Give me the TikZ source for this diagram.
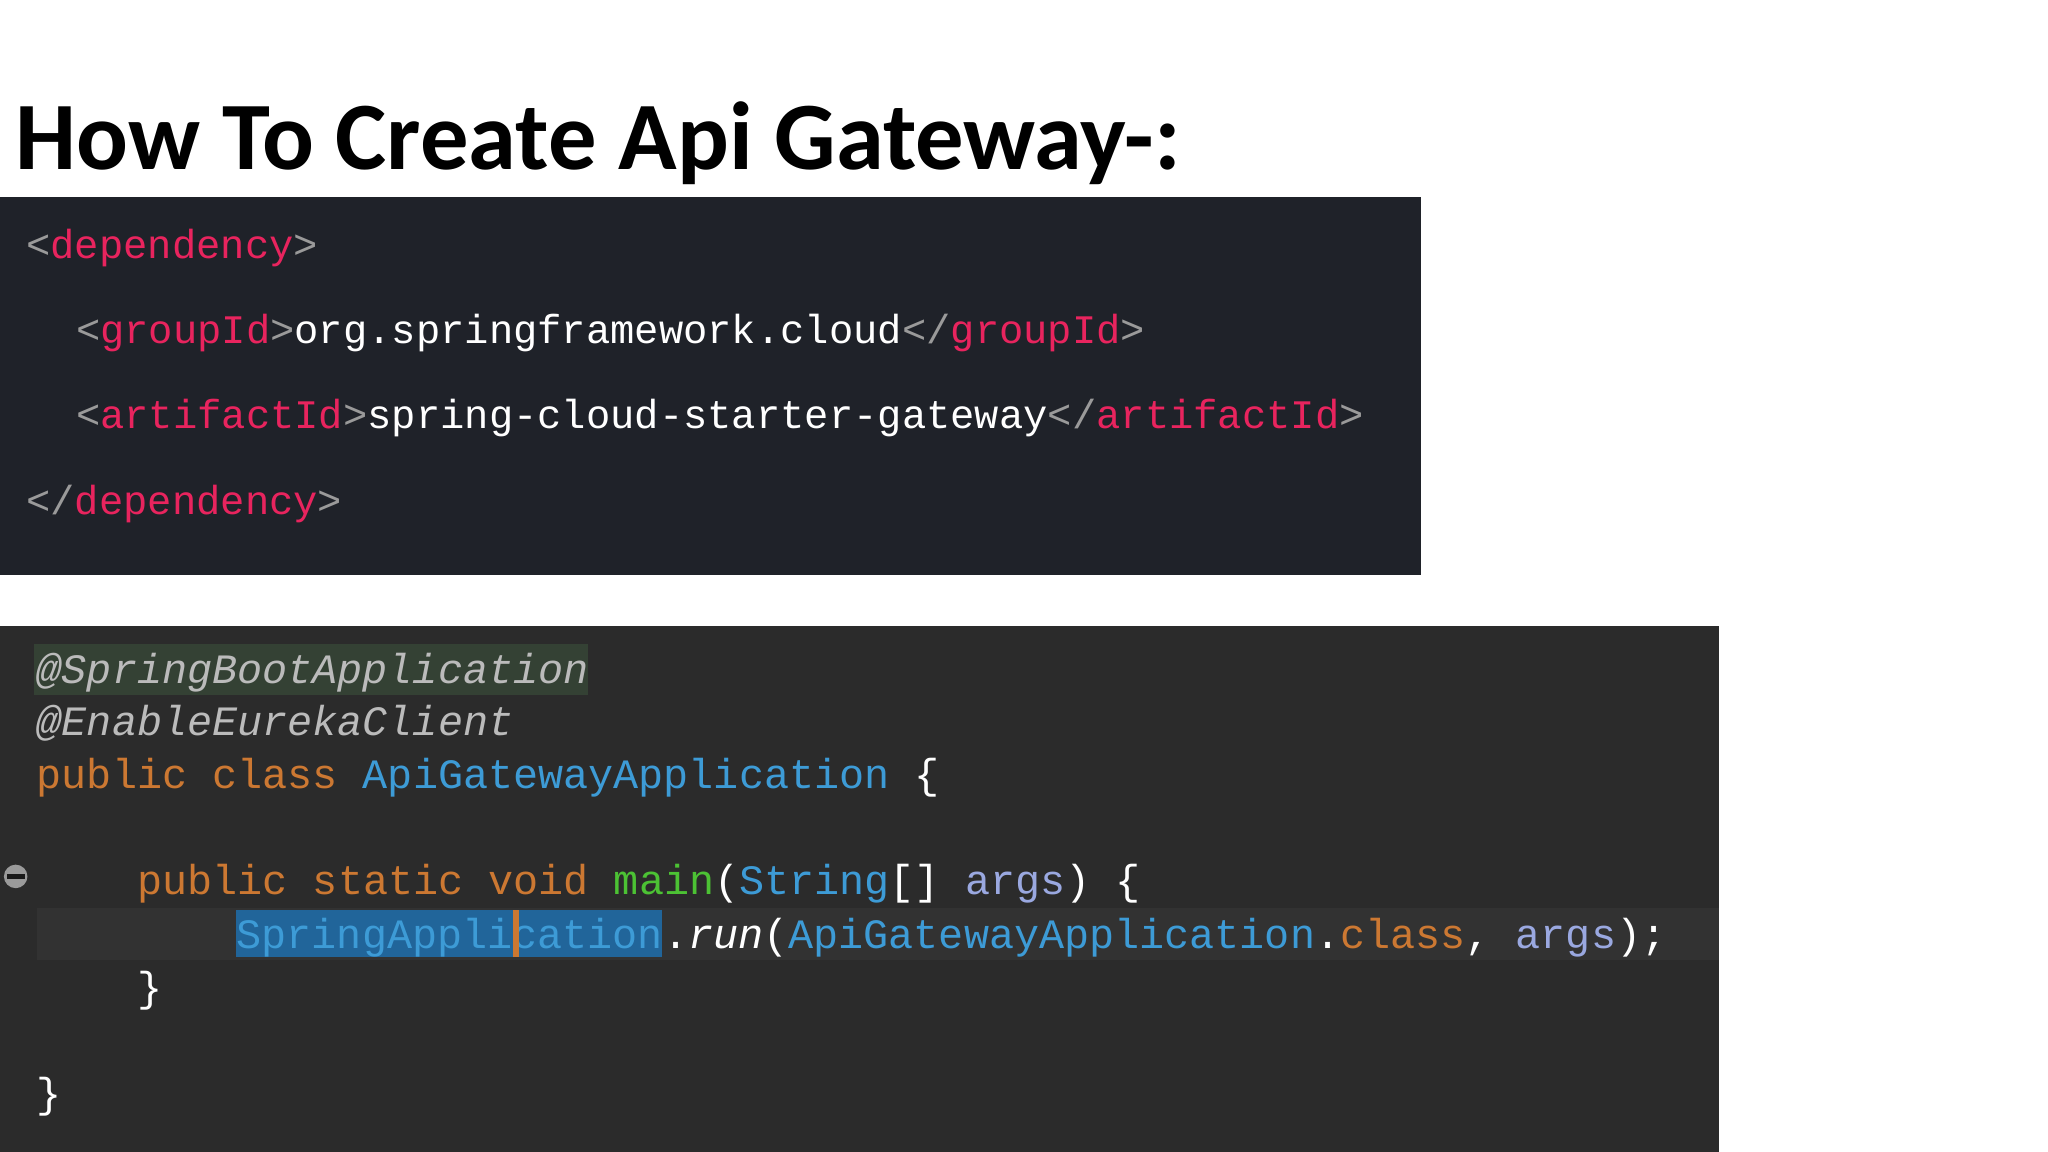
\documentclass[tikz,border=0pt]{standalone}
\usepackage{fontspec}
\setmainfont{Carlito}
\setmonofont{Liberation Mono}
\definecolor{bgA}{HTML}{1F2229}
\definecolor{bgB}{HTML}{2B2B2B}
\definecolor{brk}{HTML}{9A9A9A}
\definecolor{tag}{HTML}{E8245E}
\definecolor{ann}{HTML}{BBBBBB}
\definecolor{annbg}{HTML}{344134}
\definecolor{kw}{HTML}{CC7832}
\definecolor{cls}{HTML}{3D9BD6}
\definecolor{mth}{HTML}{4CC234}
\definecolor{prm}{HTML}{9AA8E0}
\definecolor{rowbg}{HTML}{323232}
\definecolor{selbg}{HTML}{21659A}
\begin{document}
\begin{tikzpicture}[x=1pt,y=-1pt,
 codeA/.style={anchor=base west,inner sep=0,font=\ttfamily\fontsize{31}{31}\selectfont,text=white},
 codeB/.style={anchor=base west,inner sep=0,font=\ttfamily\fontsize{32}{32}\selectfont,text=white}]
\useasboundingbox[fill=white] (0,0) rectangle (1568,882);
\node[anchor=base west,inner sep=0,font=\bfseries\fontsize{74}{74}\selectfont] (title) at (12,130) {How To Create Api Gateway-:};
\fill[bgA] (0,151) rectangle (1088,440);
\node[codeA] (l1) at (20,198) {\textcolor{brk}{<}\textcolor{tag}{dependency}\textcolor{brk}{>}};
\node[codeA] (l2) at (58,263) {\textcolor{brk}{<}\textcolor{tag}{groupId}\textcolor{brk}{>}org.springframework.cloud\textcolor{brk}{</}\textcolor{tag}{groupId}\textcolor{brk}{>}};
\node[codeA] (l3) at (58,328) {\textcolor{brk}{<}\textcolor{tag}{artifactId}\textcolor{brk}{>}spring-cloud-starter-gateway\textcolor{brk}{</}\textcolor{tag}{artifactId}\textcolor{brk}{>}};
\node[codeA] (l4) at (20,394) {\textcolor{brk}{</}\textcolor{tag}{dependency}\textcolor{brk}{>}};
\fill[bgB] (0,479) rectangle (1316,882);
\fill[annbg] (26,493) rectangle (450,532);
\fill[rowbg] (28,695) rectangle (1316,735);
\fill[selbg] (181,697) rectangle (507,733);
\node[codeB,text=ann] (m1) at (28,523) {\itshape @SpringBootApplication};
\node[codeB,text=ann] (m2) at (28,563) {\itshape @EnableEurekaClient};
\node[codeB] (m3) at (28,604) {\textcolor{kw}{public class} \textcolor{cls}{ApiGatewayApplication} \{};
\node[codeB] (m4) at (105,685) {\textcolor{kw}{public static void} \textcolor{mth}{main}(\textcolor{cls}{String}[] \textcolor{prm}{args}) \{};
\node[codeB] (m5) at (181,726) {\textcolor{cls}{SpringApplication}.\textit{run}(\textcolor{cls}{ApiGatewayApplication}.\textcolor{kw}{class}, \textcolor{prm}{args});};
\node[codeB] (m6) at (105,767) {\}};
\node[codeB] (m7) at (28,848) {\}};
\fill[kw] (393,697) rectangle (397,733);
\fill[brk] (12,671) circle (9);
\fill[bgB!60!black] (5,669) rectangle (19,673);
\end{tikzpicture}
\end{document}
